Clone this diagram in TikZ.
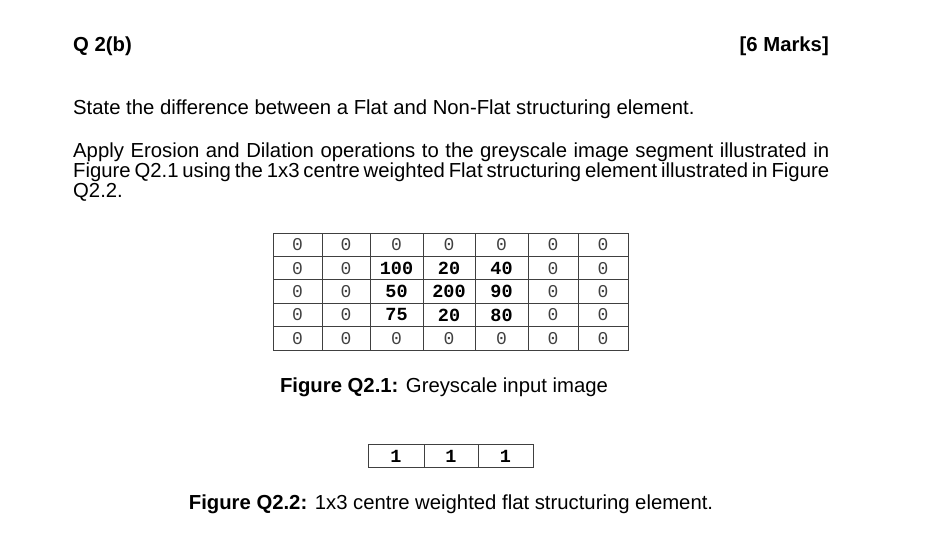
\documentclass[tikz,border=0pt]{standalone}
\usepackage{fontspec}
\setmainfont{Liberation Sans}
\newfontfamily\monofont{Liberation Mono}
\usetikzlibrary{positioning}
\tikzset{
  txt/.style={anchor=west, inner sep=0pt, font=\fontsize{20.3}{20}\selectfont},
  cell/.style={draw=black!75, line width=1pt, minimum height=23.4pt, inner sep=0pt},
  thin0/.style={font=\monofont\fontsize{18}{18}\selectfont\color{black!75}},
  big/.style={font=\monofont\bfseries\fontsize{18.5}{18}\selectfont}
}
\begin{document}
\begin{tikzpicture}[x=1pt,y=-1pt]
\useasboundingbox (0,0) rectangle (931,544);
\node(title)[txt, font=\bfseries\fontsize{20.3}{20}\selectfont] at (73,46) {Q 2(b)};
\node(marks)[txt, anchor=east, font=\bfseries\fontsize{20.3}{20}\selectfont] at (829,46) {[6 Marks]};
\node(state)[txt] at (73,109) {State the difference between a Flat and Non-Flat structuring element.};
\node(apply)[txt, anchor=north west, text width=756pt, align=justify] at (73,143)
  {Apply Erosion and Dilation operations to the greyscale image segment illustrated in Figure Q2.1 using the 1x3 centre weighted Flat structuring element illustrated in Figure Q2.2.};
% input image
\def\colx{{273,322,370,423,475,528,578,628}}
\foreach \r/\vals in {0/{0,0,0,0,0,0,0},1/{0,0,100,20,40,0,0},2/{0,0,50,200,90,0,0},3/{0,0,75,20,80,0,0},4/{0,0,0,0,0,0,0}}{
  \foreach \v [count=\c from 0] in \vals {
    \pgfmathsetmacro\xa{\colx[\c]}
    \pgfmathsetmacro\xb{\colx[\c+1]}
    \pgfmathsetmacro\ya{233+23.4*\r}
    \draw[black!75, line width=1pt] (\xa,\ya) rectangle (\xb,\ya+23.4);
    \ifnum\v=0
      \node(g\r\c)[thin0] at ({(\xa+\xb)/2},\ya+11.7) {0};
    \else
      \node(g\r\c)[big] at ({(\xa+\xb)/2},\ya+11.7) {\v};
    \fi
  }
}
\node(cap1)[txt, anchor=center] at (444,387) {\textbf{Figure Q2.1:} Greyscale input image};
% structuring element
\foreach \xa/\xb [count=\i] in {368/424,424/478,478/533}{
  \node(se\i)[cell, big, minimum width={\xb-\xa}] at ({(\xa+\xb)/2},456) {1};
}
\node(cap2)[txt, anchor=center] at (451,504) {\textbf{Figure Q2.2:} 1x3 centre weighted flat structuring element.};
\end{tikzpicture}
\end{document}
